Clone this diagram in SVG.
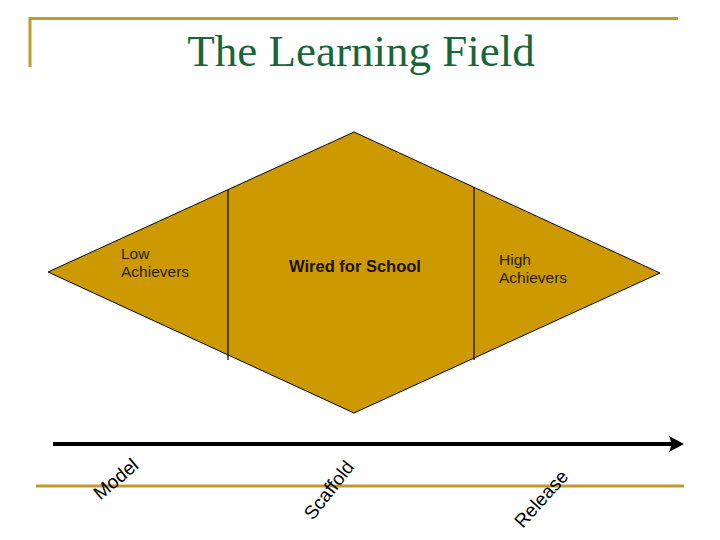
<svg xmlns="http://www.w3.org/2000/svg" width="720" height="540" viewBox="0 0 720 540">
<style>
.gold{stroke:#C09A2E;stroke-width:3;fill:none}
.lbl{font-family:"Liberation Sans",Arial,sans-serif;font-size:15.5px;fill:#2a1e00}
.step{font-family:"Liberation Sans",Arial,sans-serif;font-size:19px;fill:#000}
.div{stroke:#000;stroke-width:1.2}
</style>
<rect width="720" height="540" fill="#fff"/>
<g id="frame">
<path class="gold" d="M30,67 V18.5 H678"/>
<line class="gold" x1="36" y1="486" x2="684" y2="486"/>
</g>
<text x="361" y="66" text-anchor="middle" font-family="'Liberation Serif','Times New Roman',serif" font-size="45" fill="#17663a">The Learning Field</text>
<g id="field">
<polygon points="48,272 354,132 660,273 354,413" fill="#CC9900" stroke="#000" stroke-width="1"/>
<line class="div" x1="228" y1="190" x2="228" y2="360"/>
<line class="div" x1="474" y1="187" x2="474" y2="360"/>
</g>
<g id="low"><text class="lbl" x="121" y="259">Low</text><text class="lbl" x="121" y="277">Achievers</text></g>
<g id="wired"><text x="355" y="272" text-anchor="middle" font-family="'Liberation Sans',Arial,sans-serif" font-size="16.5" font-weight="bold" fill="#1a1200">Wired for School</text></g>
<g id="high"><text class="lbl" x="499" y="265">High</text><text class="lbl" x="499" y="283">Achievers</text></g>
<g id="connectors">
<line x1="53" y1="444" x2="674" y2="444" stroke="#000" stroke-width="4"/>
<polygon points="684,444 669,436 672,444 669,452" fill="#000"/>
</g>
<g id="model"><text class="step" transform="translate(120,484) rotate(-40)" text-anchor="middle">Model</text></g>
<g id="scaffold"><text class="step" transform="translate(334,494) rotate(-52)" text-anchor="middle">Scaffold</text></g>
<g id="release"><text class="step" transform="translate(546,503) rotate(-48)" text-anchor="middle">Release</text></g>
</svg>
